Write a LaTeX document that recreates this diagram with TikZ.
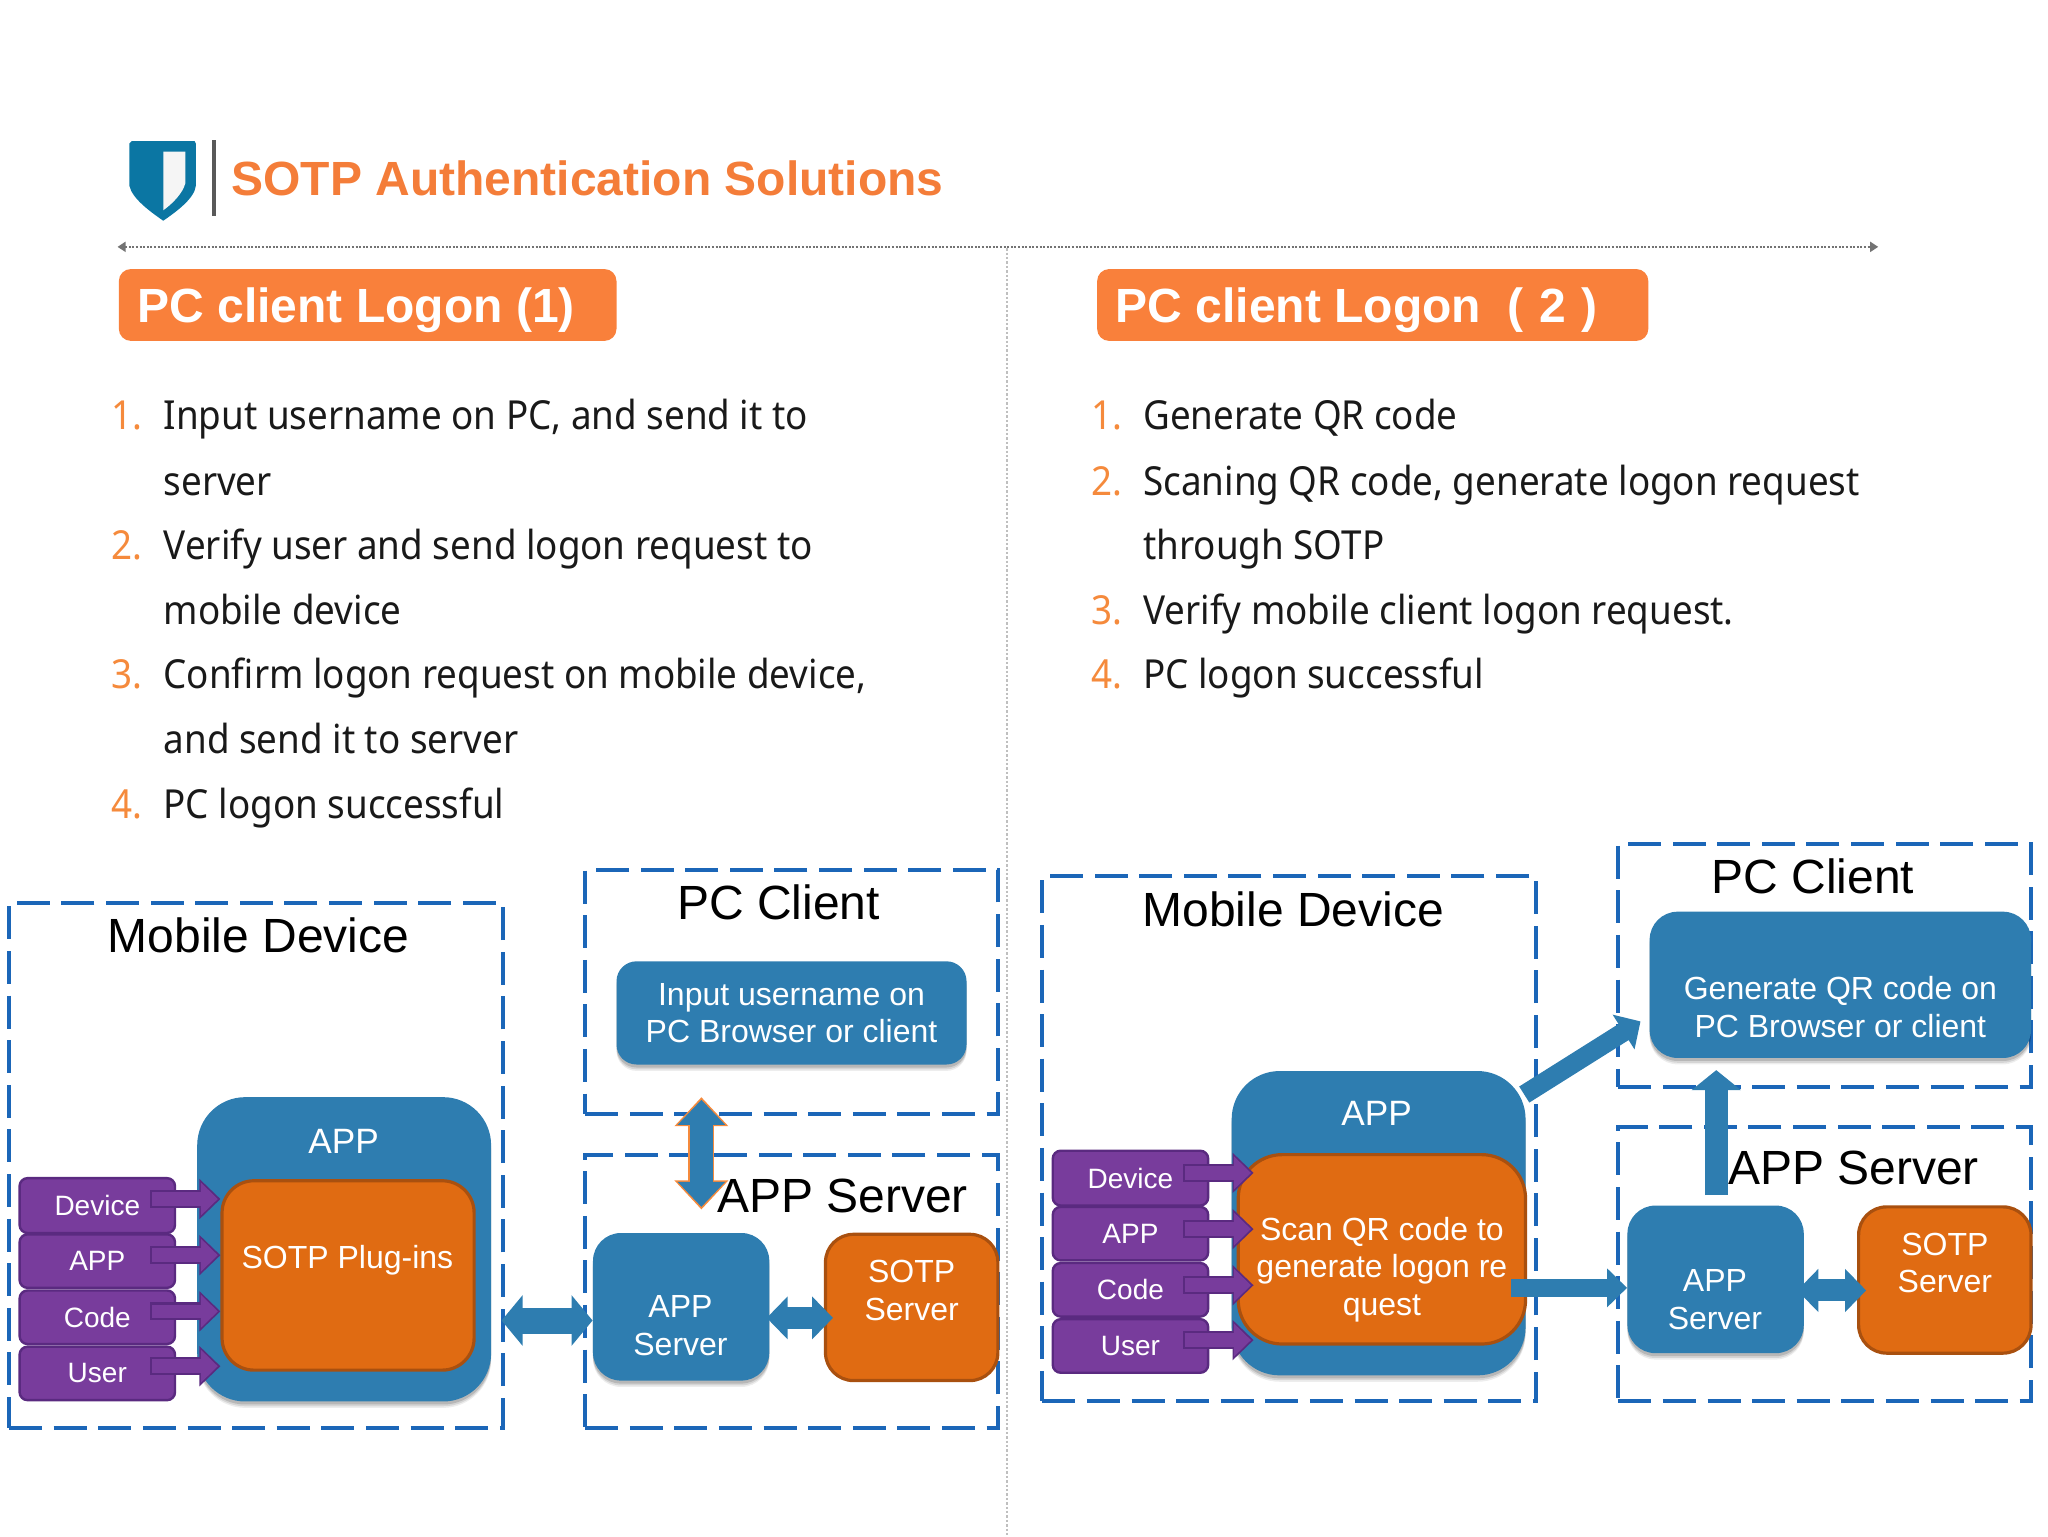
\documentclass[tikz,border=0pt]{standalone}
\usepackage{fontspec}
\setmainfont{Liberation Sans}
\newfontfamily\listfont[FakeStretch=0.92]{Noto Sans}
\usetikzlibrary{arrows.meta,shadows,calc}
\definecolor{dashblue}{HTML}{1B66B8}
\definecolor{boxblue}{HTML}{2E7DB0}
\definecolor{boxorange}{HTML}{E06B12}
\definecolor{orangeline}{HTML}{A9500F}
\definecolor{boxpurple}{HTML}{783C9C}
\definecolor{purpleline}{HTML}{5A2A80}
\definecolor{headorange}{HTML}{F9803B}
\definecolor{titleorange}{HTML}{F47D39}
\definecolor{numorange}{HTML}{F58A3C}
\definecolor{logoblue}{HTML}{0B76A3}
\newcommand{\rbox}[7]{\node[#1,minimum width={(#5-#3)*0.65306pt},minimum height={(#6-#4)*0.65306pt},inner sep=0pt] (#2) at ({(#3+#5)/2},{(#4+#6)/2}) {#7};}
\tikzset{
  dashbox/.style={draw=dashblue,line width=2pt,dash pattern=on 16.5pt off 5.8pt},
  softshadow/.style={
    drop shadow={shadow xshift=0pt,shadow yshift=-3.2pt,opacity=.07,fill=black},
    drop shadow={shadow xshift=0pt,shadow yshift=-2.4pt,opacity=.10,fill=black},
    drop shadow={shadow xshift=0pt,shadow yshift=-1.5pt,opacity=.14,fill=black}},
  blueR/.style={fill=boxblue,rounded corners=#1,softshadow,text=white,align=center,font=\fontsize{16}{18.6}\selectfont},
  orangeR/.style={fill=boxorange,draw=orangeline,line width=1.6pt,rounded corners=#1,text=white,align=center,font=\fontsize{16}{18.6}\selectfont},
  purpleR/.style={fill=boxpurple,draw=purpleline,line width=1.2pt,rounded corners=4pt,text=white,font=\fontsize{14}{16}\selectfont},
  headR/.style={fill=headorange,rounded corners=6pt},
  bigT/.style={font=\fontsize{24}{28}\selectfont,text=black,anchor=base,inner sep=0pt},
  whiteT/.style={font=\fontsize{16}{18.6}\selectfont,text=white,align=center,inner sep=0pt},
  appT/.style={font=\fontsize{17.6}{20}\selectfont,text=white,anchor=base,inner sep=0pt},
  headT/.style={font=\fontsize{24}{28}\bfseries\selectfont,text=white,anchor=base west,inner sep=0pt},
  listT/.style={font=\listfont\fontsize{20}{24}\selectfont,text=black!90,anchor=base west,inner sep=0pt},
  numT/.style={font=\listfont\fontsize{20}{24}\selectfont,text=numorange,anchor=base west,inner sep=0pt},
  parrowO/.style={draw=purpleline,line width=9pt,-{Triangle[width=19.5pt,length=10.5pt]}},
  parrow/.style={draw=boxpurple,line width=6.8pt,-{Triangle[width=16pt,length=8.5pt]}},
  barrow/.style={draw=boxblue,line width=#1,-{Triangle[width={#1*2.1},length=10pt]}},
  darrow/.style={draw=boxblue,line width=#1,{Triangle[width={#1*1.9},length=10.5pt]}-{Triangle[width={#1*1.9},length=10.5pt]}},
}
\begin{document}
\begin{tikzpicture}[x=0.65306pt,y=-0.65306pt]
\useasboundingbox (0,0) rectangle (1568,1176);
% rules
\coordinate (vtop) at (771,190);
\coordinate (vbot) at (771,1176);
\draw[black!25,line width=.7pt,dash pattern=on 1.2pt off 1pt] (vtop) -- (vbot);
\coordinate (hl) at (90,189);
\coordinate (hr) at (1438,189);
\draw[black!55,line width=.8pt,dash pattern=on 1pt off .8pt,{Triangle[width=5pt,length=4pt]}-{Triangle[width=5pt,length=4pt]}] (hl) -- (hr);
% logo
\fill[logoblue] (101,108) -- (149,108) -- (150,110) -- (150,142) .. controls (149,152) and (135,162) .. (125,169) .. controls (115,162) and (101,152) .. (99,142) -- (99,110) -- cycle;
\fill[white!96!black] (125,116) -- (142,116) -- (142,140) .. controls (140,148) and (132,156) .. (125,161) -- cycle;
\fill[black!65] (162,107) rectangle (165,165);
\node[font=\fontsize{24}{28}\bfseries\selectfont,text=titleorange,anchor=base west,inner sep=0pt] (title) at (177,150) {SOTP Authentication Solutions};
% headers
\rbox{headR}{hA}{91}{206}{472}{261}{}
\rbox{headR}{hB}{840}{206}{1262}{261}{}
\node[headT] (hAt) at (105,247) {PC client Logon (1)};
\node[headT] (hBt) at (854,247) {PC client Logon\ \ (\hspace{1pt} 2 \hspace{1pt})};
% left list
\node[numT] (n1) at (85,329) {1.};
\node[listT] (l1) at (125,329) {Input username on PC, and send it to};
\node[listT] (l2) at (125,379) {server};
\node[numT] (n2) at (85,428) {2.};
\node[listT] (l3) at (125,428) {Verify user and send logon request to};
\node[listT] (l4) at (125,478) {mobile device};
\node[numT] (n3) at (85,527) {3.};
\node[listT] (l5) at (125,527) {Confirm logon request on mobile device,};
\node[listT] (l6) at (125,577) {and send it to server};
\node[numT] (n4) at (85,627) {4.};
\node[listT] (l7) at (125,627) {PC logon successful};
% right list
\node[numT] (m1) at (835,329) {1.};
\node[listT] (r1) at (875,329) {Generate QR code};
\node[numT] (m2) at (835,379) {2.};
\node[listT] (r2) at (875,379) {Scaning QR code, generate logon request};
\node[listT] (r3) at (875,428) {through SOTP};
\node[numT] (m3) at (835,478) {3.};
\node[listT] (r4) at (875,478) {Verify mobile client logon request.};
\node[numT] (m4) at (835,527) {4.};
\node[listT] (r5) at (875,527) {PC logon successful};
% ---------- left diagram
\rbox{dashbox}{Lmob}{7}{691}{385}{1093}{}
\rbox{dashbox}{Lpc}{448}{666}{764}{853}{}
\rbox{dashbox}{Lsrv}{448}{884}{764}{1093}{}
\rbox{blueR=10pt}{Lin}{472}{736}{740}{815}{Input username on\\PC Browser or client}
\rbox{blueR=24pt}{Lapp}{151}{840}{376}{1073}{}
\rbox{orangeR=16pt}{Lplug}{170}{904}{363}{1049}{}
\rbox{blueR=14pt}{Las}{454}{944}{589}{1057}{}
\rbox{orangeR=14pt}{Lso}{632}{945}{764}{1057}{}
\rbox{purpleR}{Ld}{15}{902}{134}{944}{Device}
\rbox{purpleR}{La}{15}{945}{134}{986}{APP}
\rbox{purpleR}{Lc}{15}{988}{134}{1029}{Code}
\rbox{purpleR}{Lu}{15}{1031}{134}{1072}{User}
\node[appT] (LappT) at (263,883) {APP};
\node[whiteT,anchor=base] (LplugT) at (266,971) {SOTP Plug-ins};
\node[whiteT,anchor=center] (LasT) at (521,1015) {APP\\Server};
\node[whiteT,anchor=center] (LsoT) at (698,988) {SOTP\\Server};
\coordinate (a1) at (115,918);
\coordinate (a2) at (115,961);
\coordinate (a3) at (115,1004);
\coordinate (a4) at (115,1046);
\foreach \k in {1,2,3,4} {
  \draw[parrowO] (a\k) -- (a\k -| Lplug.west);
  \draw[parrow] ($(a\k)+(1.5,0)$) -- ($(a\k -| Lplug.west)+(-2,0)$);
}
\coordinate (b1) at (384,1011);
\draw[darrow=13pt] (b1) -- (b1 -| Las.west);
\coordinate (b2) at (587,1009);
\draw[darrow=11pt] (b2) -- ($(b2 -| Lso.west)+(7,0)$);
\coordinate (b3) at (537,840);
\coordinate (b4) at (537,926);
\draw[draw=numorange,line width=13pt,{Triangle[width=26pt,length=14.5pt]}-{Triangle[width=26pt,length=14.5pt]}] (b3) -- (b4);
\draw[draw=boxblue,line width=11.5pt,{Triangle[width=23pt,length=12.5pt]}-{Triangle[width=23pt,length=12.5pt]}] ($(b3)+(0,2)$) -- ($(b4)+(0,-2)$);
\node[bigT] (LmobT) at (198,729) {Mobile Device};
\node[bigT] (LpcT) at (596,704) {PC Client};
\node[bigT] (LsrvT) at (645,928) {APP Server};
% ---------- right diagram
\rbox{dashbox}{Rmob}{798}{671}{1176}{1073}{}
\rbox{dashbox}{Rpc}{1239}{646}{1555}{832}{}
\rbox{dashbox}{Rsrv}{1239}{863}{1555}{1073}{}
\rbox{blueR=14pt}{Rin}{1263}{698}{1555}{810}{}
\rbox{blueR=24pt}{Rapp}{943}{820}{1168}{1053}{}
\rbox{orangeR=22pt}{Rplug}{948}{884}{1168}{1029}{}
\rbox{blueR=14pt}{Ras}{1246}{923}{1381}{1036}{}
\rbox{orangeR=14pt}{Rso}{1423}{924}{1555}{1036}{}
\rbox{purpleR}{Rd}{806}{881}{925}{923}{Device}
\rbox{purpleR}{Ra}{806}{924}{925}{965}{APP}
\rbox{purpleR}{Rc}{806}{967}{925}{1008}{Code}
\rbox{purpleR}{Ru}{806}{1010}{925}{1051}{User}
\node[whiteT,anchor=center] (RinT) at (1409,771) {Generate QR code on\\PC Browser or client};
\node[appT] (RappT) at (1054,862) {APP};
\node[whiteT,anchor=center] (RplugT) at (1058,972) {Scan QR code to\\generate logon re\\quest};
\node[whiteT,anchor=center] (RasT) at (1313,995) {APP\\Server};
\node[whiteT,anchor=center] (RsoT) at (1489,967) {SOTP\\Server};
\coordinate (c1) at (906,898);
\coordinate (c2) at (906,941);
\coordinate (c3) at (906,984);
\coordinate (c4) at (906,1026);
\foreach \k in {1,2,3,4} {
  \draw[parrowO] (c\k) -- ($(c\k -| Rplug.west)+(13,0)$);
  \draw[parrow] ($(c\k)+(1.5,0)$) -- ($(c\k -| Rplug.west)+(11,0)$);
}
\coordinate (d1) at (1157,986);
\draw[barrow=9pt] (d1) -- (d1 -| Ras.west);
\coordinate (d2) at (1376,988);
\draw[darrow=11pt] (d2) -- ($(d2 -| Rso.west)+(7,0)$);
\coordinate (d3) at (1167,838);
\coordinate (d4) at (1256,782);
\draw[barrow=9.5pt] (d3) -- (d4);
\coordinate (d5) at (1314,915);
\draw[barrow=11.5pt] (d5) -- ($(d5 |- Rin.south)+(0,9)$);
\node[bigT] (RmobT) at (990,709) {Mobile Device};
\node[bigT] (RpcT) at (1388,684) {PC Client};
\node[bigT] (RsrvT) at (1419,907) {APP Server};
\end{tikzpicture}
\end{document}
